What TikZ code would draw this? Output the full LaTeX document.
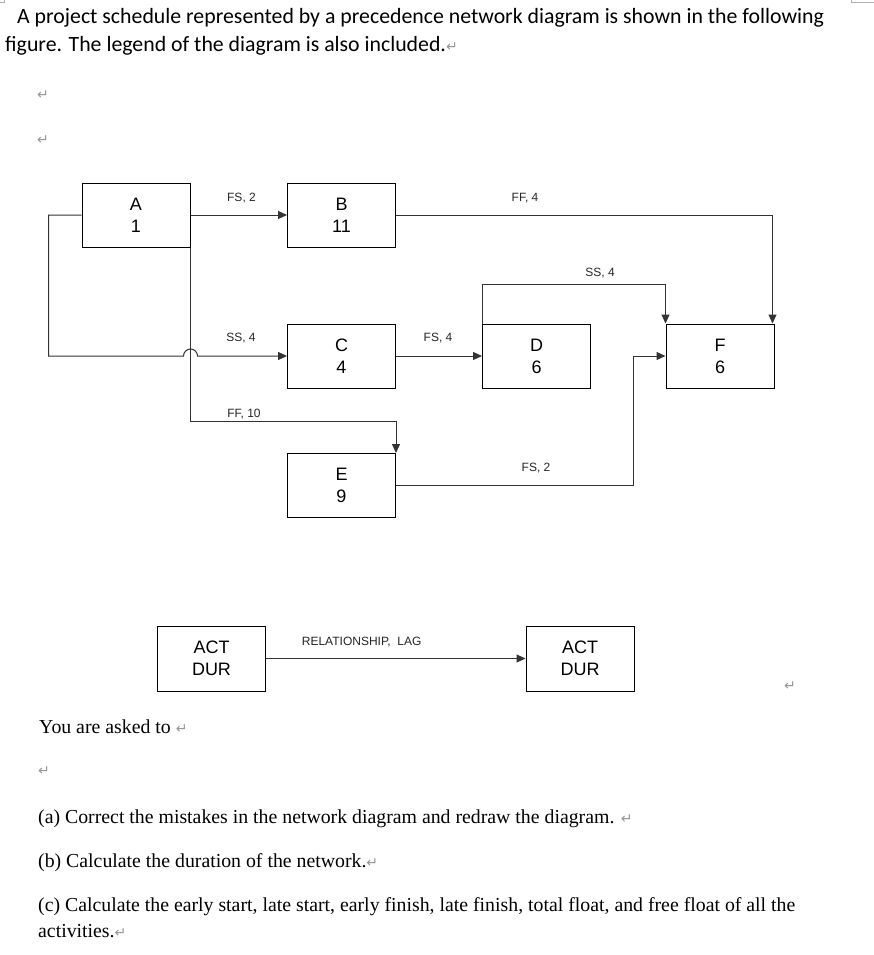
\documentclass[tikz,border=0pt]{standalone}
\usepackage{fontspec}
\setmainfont{Liberation Sans}
\newfontfamily\hdfont{Carlito}
\newfontfamily\tmfont{Liberation Serif}
\newfontfamily\retfont{DejaVu Sans}
\usetikzlibrary{arrows.meta}
\definecolor{retgray}{RGB}{150,150,150}
\newcommand{\rmk}{{\retfont\fontsize{14}{14}\selectfont\textcolor{retgray}{↵}}}
\begin{document}
\begin{tikzpicture}[x=1pt,y=-1pt,
  box/.style={draw, line width=1pt, minimum width=108pt, minimum height=64pt, inner sep=0pt,
    font=\fontsize{18}{22}\selectfont, align=center},
  lbl/.style={font=\fontsize{12}{12}\selectfont, text=black!85, inner sep=0pt},
  conn/.style={draw=black!80, line width=1pt},
  arr/.style={conn, -{Triangle[length=9pt,width=8pt]}},
  hd/.style={anchor=base west, inner sep=0pt, font=\hdfont\fontsize{21.8}{24}\selectfont},
  tm/.style={anchor=base west, inner sep=0pt, font=\tmfont\fontsize{19.8}{24}\selectfont},
  ret/.style={inner sep=0pt}
]
\useasboundingbox (0,0) rectangle (874,955);
\fill[white] (0,0) rectangle (874,955);
% page corner marks
\draw[gray!60, line width=1pt] (851,0) -- (851,3) -- (874,3);
\draw[gray!60, line width=1pt] (0,3) -- (4,3) -- (4,0);

% header text
\node[hd] (t1) at (17,24) {A project schedule represented by a precedence network diagram is shown in the following};
\node[hd] (t2) at (5,52) {figure. The legend of the diagram is also included.\rmk};
\node[ret] (r1) at (43,95) {\rmk};
\node[ret] (r2) at (43,140) {\rmk};

% activity boxes
\node[box] (A) at (136,215) {A\\1};
\node[box] (B) at (341.5,215) {B\\11};
\node[box] (C) at (341.5,356) {C\\4};
\node[box] (E) at (341.5,485.5) {E\\9};
\node[box] (D) at (536.5,356) {D\\6};
\node[box] (F) at (720,356) {F\\6};

% connectors
\draw[arr] (A.east) -- (B.west);
\coordinate (jmp) at (A.south east |- C.west);
\draw[arr] (A.west) -- ++(-33,0) |- ([xshift=-7pt]jmp)
  arc[start angle=180, end angle=0, radius=7pt] -- (C.west);
\draw[arr] (A.south east) -- ++(0,174) -| (E.north east);
\draw[arr] (B.east) -| ([xshift=-2pt]F.north east);
\draw[arr] (C.east) -- (D.west);
\draw[arr] (D.north west) -- ++(0,-39) -| (F.north west);
\draw[arr] (E.east) -- ++(237,0) |- (F.west);

% relationship labels
\node[lbl] (l1) at (241.5,198) {FS, 2};
\node[lbl] (l2) at (241,338) {SS, 4};
\node[lbl] (l3) at (244,414) {FF, 10};
\node[lbl] (l4) at (438,338) {FS, 4};
\node[lbl] (l5) at (525,198) {FF, 4};
\node[lbl] (l6) at (600,273) {SS, 4};
\node[lbl] (l7) at (536,468) {FS, 2};

% legend
\node[box, minimum height=65pt] (G1) at (211.5,658.5) {ACT\\DUR};
\node[box, minimum height=65pt] (G2) at (580,658.5) {ACT\\DUR};
\draw[arr] (G1.east) -- (G2.west);
\node[lbl] (gl) at (361.7,641.7) {RELATIONSHIP,\ \ LAG};
\node[ret] (r3) at (790,686) {\rmk};

% question text
\node[tm] (q0) at (39,733) {You are asked to \rmk};
\node[ret] (r4) at (44,771) {\rmk};
\node[tm] (qa) at (38,823) {(a) Correct the mistakes in the network diagram and redraw the diagram. \rmk};
\node[tm] (qb) at (38,867) {(b) Calculate the duration of the network.\rmk};
\node[tm] (qc) at (38,911) {(c) Calculate the early start, late start, early finish, late finish, total float, and free float of all the};
\node[tm] (qd) at (38,937) {activities.\rmk};
\end{tikzpicture}
\end{document}
